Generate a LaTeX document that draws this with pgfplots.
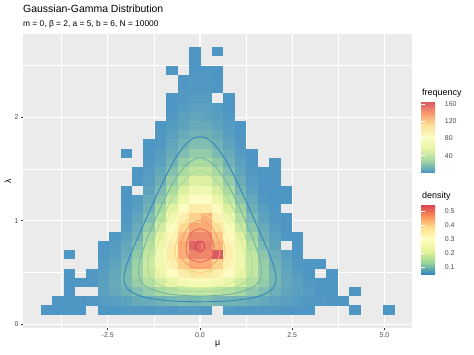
\documentclass[border=0pt]{standalone}
\usepackage{pgfplots}
\usepackage{pgfplotstable}
\pgfplotsset{compat=1.18}
\usepackage{fontspec}
\setmainfont{Liberation Sans}
\definecolor{panelbg}{HTML}{EBEBEB}
\definecolor{grey30}{HTML}{4D4D4D}
\definecolor{grey20}{HTML}{333333}
\definecolor{lvA}{RGB}{50,136,189}
\definecolor{lvB}{RGB}{112,182,164}
\definecolor{lvC}{RGB}{168,219,149}
\definecolor{lvD}{RGB}{215,239,151}
\definecolor{lvE}{RGB}{240,249,168}
\definecolor{lvF}{RGB}{255,255,191}
\definecolor{lvG}{RGB}{254,236,160}
\definecolor{lvH}{RGB}{254,207,129}
\definecolor{lvI}{RGB}{252,158,99}
\definecolor{lvJ}{RGB}{236,109,85}
\definecolor{lvK}{RGB}{213,62,79}
\pgfplotsset{
  colormap={spectral}{rgb255=(50,136,189) rgb255=(153,213,148) rgb255=(230,245,152) rgb255=(255,255,191) rgb255=(254,224,139) rgb255=(252,141,89) rgb255=(213,62,79)},
  colormap={spectralA}{rgb255=(78,151,196) rgb255=(165,216,161) rgb255=(231,244,164) rgb255=(252,252,198) rgb255=(251,226,153) rgb255=(250,155,111) rgb255=(216,88,102)}
}
\pgfdeclareplotmark{cell}{\pgfpathrectangle{\pgfpoint{-5.76bp}{-4.66bp}}{\pgfpoint{11.52bp}{9.32bp}}\pgfusepathqfill}
\pgfplotstableread[row sep=\\]{
k j c\\
0 0 1\\ 1 0 1\\ 2 0 1\\ 3 0 1\\ 5 0 1\\ 6 0 1\\ 7 0 2\\ 8 0 2\\ 9 0 2\\ 10 0 3\\ 11 0 2\\ 12 0 3\\ 13 0 3\\ 14 0 2\\ 16 0 3\\ 17 0 2\\ 18 0 2\\ 19 0 2\\ 20 0 2\\ 21 0 1\\ 22 0 1\\ 23 0 1\\ 27 0 1\\ 30 0 1\\
1 1 1\\ 2 1 1\\ 3 1 1\\ 4 1 2\\ 5 1 3\\ 6 1 4\\ 7 1 6\\ 8 1 9\\ 9 1 10\\ 10 1 12\\ 11 1 14\\ 12 1 16\\ 13 1 15\\ 14 1 17\\ 15 1 14\\ 16 1 13\\ 17 1 12\\ 18 1 10\\ 19 1 8\\ 20 1 6\\ 21 1 5\\ 22 1 3\\ 23 1 2\\ 24 1 2\\ 25 1 1\\ 26 1 1\\
2 2 1\\ 5 2 5\\ 6 2 8\\ 7 2 12\\ 8 2 17\\ 9 2 23\\ 10 2 29\\ 11 2 35\\ 12 2 39\\ 13 2 41\\ 14 2 42\\ 15 2 38\\ 16 2 34\\ 17 2 28\\ 18 2 22\\ 19 2 17\\ 20 2 11\\ 21 2 7\\ 22 2 5\\ 23 2 3\\ 24 2 1\\ 25 2 1\\ 27 2 1\\
2 3 1\\ 3 3 1\\ 4 3 2\\ 5 3 5\\ 6 3 9\\ 7 3 15\\ 8 3 24\\ 9 3 35\\ 10 3 48\\ 11 3 60\\ 12 3 70\\ 13 3 75\\ 14 3 74\\ 15 3 69\\ 16 3 59\\ 17 3 46\\ 18 3 34\\ 19 3 23\\ 20 3 14\\ 21 3 8\\ 22 3 5\\ 23 3 2\\ 24 3 1\\ 25 3 1\\
2 4 1\\ 4 4 2\\ 5 4 4\\ 6 4 8\\ 7 4 15\\ 8 4 27\\ 9 4 43\\ 10 4 62\\ 11 4 82\\ 12 4 98\\ 13 4 108\\ 14 4 107\\ 15 4 97\\ 16 4 80\\ 17 4 60\\ 18 4 41\\ 19 4 25\\ 20 4 14\\ 21 4 7\\ 22 4 3\\ 23 4 1\\ 25 4 1\\
5 5 3\\ 6 5 6\\ 7 5 13\\ 8 5 26\\ 9 5 45\\ 10 5 69\\ 11 5 96\\ 12 5 119\\ 13 5 133\\ 14 5 132\\ 15 5 117\\ 16 5 93\\ 17 5 67\\ 18 5 42\\ 19 5 24\\ 20 5 12\\ 21 5 6\\ 22 5 2\\ 23 5 1\\ 24 5 1\\
2 6 1\\ 5 6 2\\ 6 6 4\\ 7 6 10\\ 8 6 22\\ 9 6 42\\ 10 6 70\\ 11 6 102\\ 12 6 131\\ 13 6 148\\ 14 6 147\\ 15 6 166\\ 16 6 98\\ 17 6 66\\ 18 6 40\\ 19 6 21\\ 20 6 10\\ 21 6 4\\ 22 6 1\\
5 7 1\\ 6 7 3\\ 7 7 8\\ 8 7 18\\ 9 7 36\\ 10 7 65\\ 11 7 99\\ 12 7 132\\ 13 7 160\\ 14 7 150\\ 15 7 129\\ 16 7 96\\ 17 7 61\\ 18 7 34\\ 19 7 16\\ 20 7 7\\ 22 7 1\\
6 8 2\\ 7 8 5\\ 8 8 13\\ 9 8 30\\ 10 8 56\\ 11 8 91\\ 12 8 125\\ 13 8 146\\ 14 8 145\\ 15 8 122\\ 16 8 87\\ 17 8 53\\ 18 8 27\\ 19 8 12\\ 20 8 5\\ 21 8 1\\ 22 8 1\\
7 9 3\\ 8 9 10\\ 9 9 23\\ 10 9 47\\ 11 9 79\\ 12 9 113\\ 13 9 134\\ 14 9 132\\ 15 9 110\\ 16 9 76\\ 17 9 44\\ 18 9 21\\ 19 9 9\\ 20 9 3\\ 21 9 1\\
7 10 2\\ 8 10 7\\ 9 10 17\\ 10 10 37\\ 11 10 66\\ 12 10 98\\ 13 10 117\\ 14 10 130\\ 15 10 95\\ 16 10 63\\ 17 10 35\\ 18 10 16\\ 19 10 6\\ 20 10 2\\ 21 10 1\\
7 11 1\\ 8 11 4\\ 9 11 12\\ 10 11 29\\ 11 11 54\\ 12 11 82\\ 13 11 100\\ 14 11 99\\ 15 11 79\\ 16 11 51\\ 17 11 27\\ 18 11 11\\ 19 11 4\\ 20 11 1\\
7 12 1\\ 8 12 3\\ 9 12 9\\ 10 12 21\\ 11 12 42\\ 12 12 66\\ 13 12 83\\ 14 12 82\\ 15 12 64\\ 16 12 40\\ 17 12 20\\ 18 12 8\\ 19 12 2\\ 20 12 1\\ 21 12 1\\
7 13 1\\ 9 13 6\\ 10 13 16\\ 11 13 32\\ 12 13 53\\ 13 13 66\\ 14 13 66\\ 15 13 51\\ 16 13 30\\ 17 13 14\\ 18 13 5\\ 19 13 1\\ 20 13 1\\ 21 13 1\\
8 14 1\\ 9 14 4\\ 10 14 11\\ 11 14 24\\ 12 14 41\\ 13 14 53\\ 14 14 52\\ 15 14 39\\ 16 14 23\\ 17 14 10\\ 18 14 3\\ 19 14 1\\ 20 14 1\\
8 15 1\\ 9 15 3\\ 10 15 8\\ 11 15 18\\ 12 15 31\\ 13 15 41\\ 14 15 40\\ 15 15 30\\ 16 15 17\\ 17 15 7\\ 18 15 2\\ 19 15 1\\ 20 15 1\\
9 16 2\\ 10 16 5\\ 11 16 13\\ 12 16 23\\ 13 16 31\\ 14 16 30\\ 15 16 22\\ 16 16 12\\ 17 16 5\\ 18 16 1\\ 20 16 1\\
7 17 1\\ 9 17 1\\ 10 17 4\\ 11 17 9\\ 12 17 17\\ 13 17 23\\ 14 17 23\\ 15 17 16\\ 16 17 9\\ 17 17 3\\ 18 17 1\\
9 18 1\\ 10 18 2\\ 11 18 7\\ 12 18 13\\ 13 18 17\\ 14 18 17\\ 15 18 12\\ 16 18 6\\ 17 18 2\\
10 19 2\\ 11 19 5\\ 12 19 9\\ 13 19 13\\ 14 19 12\\ 15 19 9\\ 16 19 4\\ 17 19 1\\
10 20 1\\ 11 20 3\\ 12 20 6\\ 13 20 9\\ 14 20 9\\ 15 20 6\\ 16 20 3\\ 17 20 1\\
11 21 2\\ 12 21 5\\ 13 21 7\\ 14 21 6\\ 15 21 4\\ 16 21 2\\
11 22 1\\ 12 22 3\\ 13 22 5\\ 14 22 5\\ 15 22 3\\ 16 22 1\\
11 23 1\\ 12 23 2\\ 13 23 3\\ 14 23 3\\ 16 23 1\\
12 24 2\\ 13 24 2\\ 14 24 2\\ 15 24 1\\
12 25 1\\ 13 25 2\\ 14 25 2\\ 15 25 1\\
11 26 1\\ 13 26 1\\ 14 26 1\\ 15 26 1\\
13 27 1\\
13 28 1\\ 15 28 1\\
}\bins
\begin{document}
\begin{tikzpicture}
\fill[white] (0,0) rectangle (474bp,355bp);
\useasboundingbox (0,0) rectangle (474bp,355bp);
\begin{axis}[
  at={(23bp,27bp)}, anchor=south west,
  scale only axis, width=389.4bp, height=294.1bp,
  xmin=-4.797, xmax=5.756, ymin=-0.0377, ymax=2.8066,
  axis background/.style={fill=panelbg},
  axis line style={draw=none},
  tick pos=left, tick align=outside,
  major tick length=2.2bp, minor tick length=0pt,
  tick style={color=grey20, line width=0.55bp},
  xtick={-2.5,0,2.5,5}, xticklabels={-2.5,0.0,2.5,5.0},
  ytick={0,1,2}, yticklabels={0,1,2},
  minor xtick={-3.75,-1.25,1.25,3.75}, minor ytick={0.5,1.5,2.5},
  grid=both,
  major grid style={white, line width=1.1bp},
  minor grid style={white, line width=0.55bp},
  ticklabel style={font=\fontsize{7}{8}\selectfont, text=grey30},
  xticklabel style={inner sep=0pt, yshift=-2bp},
  yticklabel style={inner sep=0pt, xshift=-2bp},
  colormap name=spectralA,
  point meta min=1, point meta max=166,
  colorbar,
  colorbar style={
    at={(1.0221,0.7695)}, anchor=north west,
    scale only axis, width=19.7bp, height=70.6bp,
    grid=none, xtick=\empty, minor ytick={},
    axis line style={draw=none},
    ytick={40,80,120,160},
    yticklabel pos=right, ytick pos=both,
    tick align=inside, major tick length=3.9bp,
    tick style={draw=white, line width=0.5bp},
    /pgf/number format/assume math mode=true,
    yticklabel={\pgfmathprintnumber{\tick}},
    yticklabel style={font=\fontsize{7}{8}\selectfont, text=grey30, inner sep=0pt, xshift=4bp, anchor=west},
  },
]
\addplot[scatter, only marks, mark=cell, scatter src=explicit,
  scatter/use mapped color={fill=mapped color, draw=none}]
  table[x expr={-4.162+0.3095*\thisrow{k}}, y expr={0.1356+0.0892*\thisrow{j}}, meta=c] {\bins};
\end{axis}
\begin{axis}[
  at={(23bp,27bp)}, anchor=south west,
  scale only axis, width=389.4bp, height=294.1bp,
  xmin=-4.797, xmax=5.756, ymin=-0.0377, ymax=2.8066,
  hide axis,
  colormap name=spectral,
  point meta min=0.05, point meta max=0.55,
  colorbar,
  colorbar style={
    at={(1.0221,0.4216)}, anchor=north west,
    scale only axis, width=19.7bp, height=70bp,
    grid=none, xtick=\empty, minor ytick={},
    axis line style={draw=none},
    ytick={0.1,0.2,0.3,0.4,0.5},
    yticklabel pos=right, ytick pos=both,
    tick align=inside, major tick length=3.9bp,
    tick style={draw=white, line width=0.5bp},
    /pgf/number format/assume math mode=true,
    yticklabel={\pgfmathprintnumber[fixed,precision=1]{\tick}},
    yticklabel style={font=\fontsize{7}{8}\selectfont, text=grey30, inner sep=0pt, xshift=4bp, anchor=west},
  },
]
\addplot[lvA, line width=0.9bp, smooth] coordinates {(0,0.215)(0.567,0.22)(0.957,0.23)(1.365,0.25)(1.601,0.27)(1.813,0.3)(1.985,0.35)(2.05,0.4)(2.061,0.45)(2.042,0.5)(1.96,0.6)(1.851,0.7)(1.732,0.8)(1.609,0.9)(1.485,1.0)(1.359,1.1)(1.233,1.2)(1.104,1.3)(0.97,1.4)(0.828,1.5)(0.67,1.6)(0.48,1.7)(0.356,1.75)(0.165,1.8)(0,1.812)(-0.165,1.8)(-0.356,1.75)(-0.48,1.7)(-0.67,1.6)(-0.828,1.5)(-0.97,1.4)(-1.104,1.3)(-1.233,1.2)(-1.359,1.1)(-1.485,1.0)(-1.609,0.9)(-1.732,0.8)(-1.851,0.7)(-1.96,0.6)(-2.042,0.5)(-2.061,0.45)(-2.05,0.4)(-1.985,0.35)(-1.813,0.3)(-1.601,0.27)(-1.365,0.25)(-0.957,0.23)(-0.567,0.22)(0,0.215)};
\addplot[lvB, line width=0.9bp, smooth] coordinates {(0,0.27)(0.605,0.28)(0.832,0.29)(0.988,0.3)(1.401,0.35)(1.571,0.4)(1.645,0.45)(1.668,0.5)(1.639,0.6)(1.561,0.7)(1.461,0.8)(1.348,0.9)(1.229,1.0)(1.104,1.1)(0.971,1.2)(0.828,1.3)(0.668,1.4)(0.473,1.5)(0.344,1.55)(0.127,1.6)(0,1.608)(-0.127,1.6)(-0.344,1.55)(-0.473,1.5)(-0.668,1.4)(-0.828,1.3)(-0.971,1.2)(-1.104,1.1)(-1.229,1.0)(-1.348,0.9)(-1.461,0.8)(-1.561,0.7)(-1.639,0.6)(-1.668,0.5)(-1.645,0.45)(-1.571,0.4)(-1.401,0.35)(-0.988,0.3)(-0.832,0.29)(-0.605,0.28)(0,0.27)};
\addplot[lvC, line width=0.9bp, smooth] coordinates {(0,0.314)(0.426,0.32)(0.642,0.33)(0.896,0.35)(1.206,0.4)(1.343,0.45)(1.404,0.5)(1.418,0.6)(1.363,0.7)(1.275,0.8)(1.17,0.9)(1.051,1.0)(0.921,1.1)(0.778,1.2)(0.611,1.3)(0.396,1.4)(0.231,1.45)(0,1.476)(-0.231,1.45)(-0.396,1.4)(-0.611,1.3)(-0.778,1.2)(-0.921,1.1)(-1.051,1.0)(-1.17,0.9)(-1.275,0.8)(-1.363,0.7)(-1.418,0.6)(-1.404,0.5)(-1.343,0.45)(-1.206,0.4)(-0.896,0.35)(-0.642,0.33)(-0.426,0.32)(0,0.314)};
\addplot[lvD, line width=0.9bp, smooth] coordinates {(0,0.351)(0.41,0.36)(0.695,0.38)(0.858,0.4)(1.08,0.45)(1.182,0.5)(1.238,0.6)(1.203,0.7)(1.126,0.8)(1.024,0.9)(0.904,1.0)(0.767,1.1)(0.604,1.2)(0.391,1.3)(0.225,1.35)(0,1.374)(-0.225,1.35)(-0.391,1.3)(-0.604,1.2)(-0.767,1.1)(-0.904,1.0)(-1.024,0.9)(-1.126,0.8)(-1.203,0.7)(-1.238,0.6)(-1.182,0.5)(-1.08,0.45)(-0.858,0.4)(-0.695,0.38)(-0.41,0.36)(0,0.351)};
\addplot[lvE, line width=0.9bp, smooth] coordinates {(0,0.388)(0.422,0.4)(0.637,0.42)(0.818,0.45)(0.975,0.5)(1.077,0.6)(1.062,0.7)(0.994,0.8)(0.895,0.9)(0.771,1.0)(0.62,1.1)(0.424,1.2)(0.281,1.25)(0,1.29)(-0.281,1.25)(-0.424,1.2)(-0.62,1.1)(-0.771,1.0)(-0.895,0.9)(-0.994,0.8)(-1.062,0.7)(-1.077,0.6)(-0.975,0.5)(-0.818,0.45)(-0.637,0.42)(-0.422,0.4)(0,0.388)};
\addplot[lvF, line width=0.9bp, smooth] coordinates {(0,0.424)(0.282,0.43)(0.514,0.45)(0.766,0.5)(0.876,0.55)(0.926,0.6)(0.931,0.7)(0.872,0.8)(0.773,0.9)(0.642,1.0)(0.468,1.1)(0.351,1.15)(0.166,1.2)(0,1.214)(-0.166,1.2)(-0.351,1.15)(-0.468,1.1)(-0.642,1.0)(-0.773,0.9)(-0.872,0.8)(-0.931,0.7)(-0.926,0.6)(-0.876,0.55)(-0.766,0.5)(-0.514,0.45)(-0.282,0.43)(0,0.424)};
\addplot[lvG, line width=0.9bp, smooth] coordinates {(0,0.46)(0.294,0.47)(0.527,0.5)(0.698,0.55)(0.774,0.6)(0.804,0.7)(0.753,0.8)(0.653,0.9)(0.508,1.0)(0.411,1.05)(0.281,1.1)(0,1.142)(-0.281,1.1)(-0.411,1.05)(-0.508,1.0)(-0.653,0.9)(-0.753,0.8)(-0.804,0.7)(-0.774,0.6)(-0.698,0.55)(-0.527,0.5)(-0.294,0.47)(0,0.46)};
\addplot[lvH, line width=0.9bp, smooth] coordinates {(0,0.4985)(0.345,0.52)(0.494,0.55)(0.614,0.6)(0.675,0.7)(0.633,0.8)(0.527,0.9)(0.353,1.0)(0.205,1.05)(0,1.073)(-0.205,1.05)(-0.353,1.0)(-0.527,0.9)(-0.633,0.8)(-0.675,0.7)(-0.614,0.6)(-0.494,0.55)(-0.345,0.52)(0,0.4985)};
\addplot[lvI, line width=0.9bp, smooth] coordinates {(0,0.5436)(0.173,0.55)(0.425,0.6)(0.509,0.65)(0.537,0.7)(0.503,0.8)(0.384,0.9)(0.283,0.95)(0,1.004)(-0.283,0.95)(-0.384,0.9)(-0.503,0.8)(-0.537,0.7)(-0.509,0.65)(-0.425,0.6)(-0.173,0.55)(0,0.5436)};
\addplot[lvJ, line width=0.9bp, smooth] coordinates {(0,0.598)(0.221,0.62)(0.312,0.65)(0.371,0.7)(0.378,0.75)(0.348,0.8)(0.287,0.85)(0.174,0.9)(0,0.9215)(-0.174,0.9)(-0.287,0.85)(-0.348,0.8)(-0.378,0.75)(-0.371,0.7)(-0.312,0.65)(-0.221,0.62)(0,0.598)};
\addplot[lvK, line width=0.9bp, smooth] coordinates {(0,0.698)(0.106,0.72)(0.124,0.75)(0.1,0.78)(0.047,0.8)(0,0.802)(-0.047,0.8)(-0.1,0.78)(-0.124,0.75)(-0.106,0.72)(0,0.698)};
\end{axis}
\node[anchor=base west, inner sep=0pt, font=\fontsize{10.5}{12}\selectfont] at (23bp,342bp) {Gaussian-Gamma Distribution};
\node[anchor=base west, inner sep=0pt, font=\fontsize{8.4}{10}\selectfont] at (23bp,328.5bp) {m = 0, β = 2, a = 5, b = 6, N = 10000};
\node[anchor=base, inner sep=0pt, font=\fontsize{8.8}{10}\selectfont] at (217.7bp,10bp) {μ};
\node[anchor=base, rotate=90, inner sep=0pt, font=\fontsize{8.8}{10}\selectfont] at (11bp,174bp) {λ};
\node[anchor=base west, inner sep=0pt, font=\fontsize{9}{10}\selectfont] at (422bp,259.4bp) {frequency};
\node[anchor=base west, inner sep=0pt, font=\fontsize{9}{10}\selectfont] at (422bp,156.7bp) {density};
\end{tikzpicture}
\end{document}
